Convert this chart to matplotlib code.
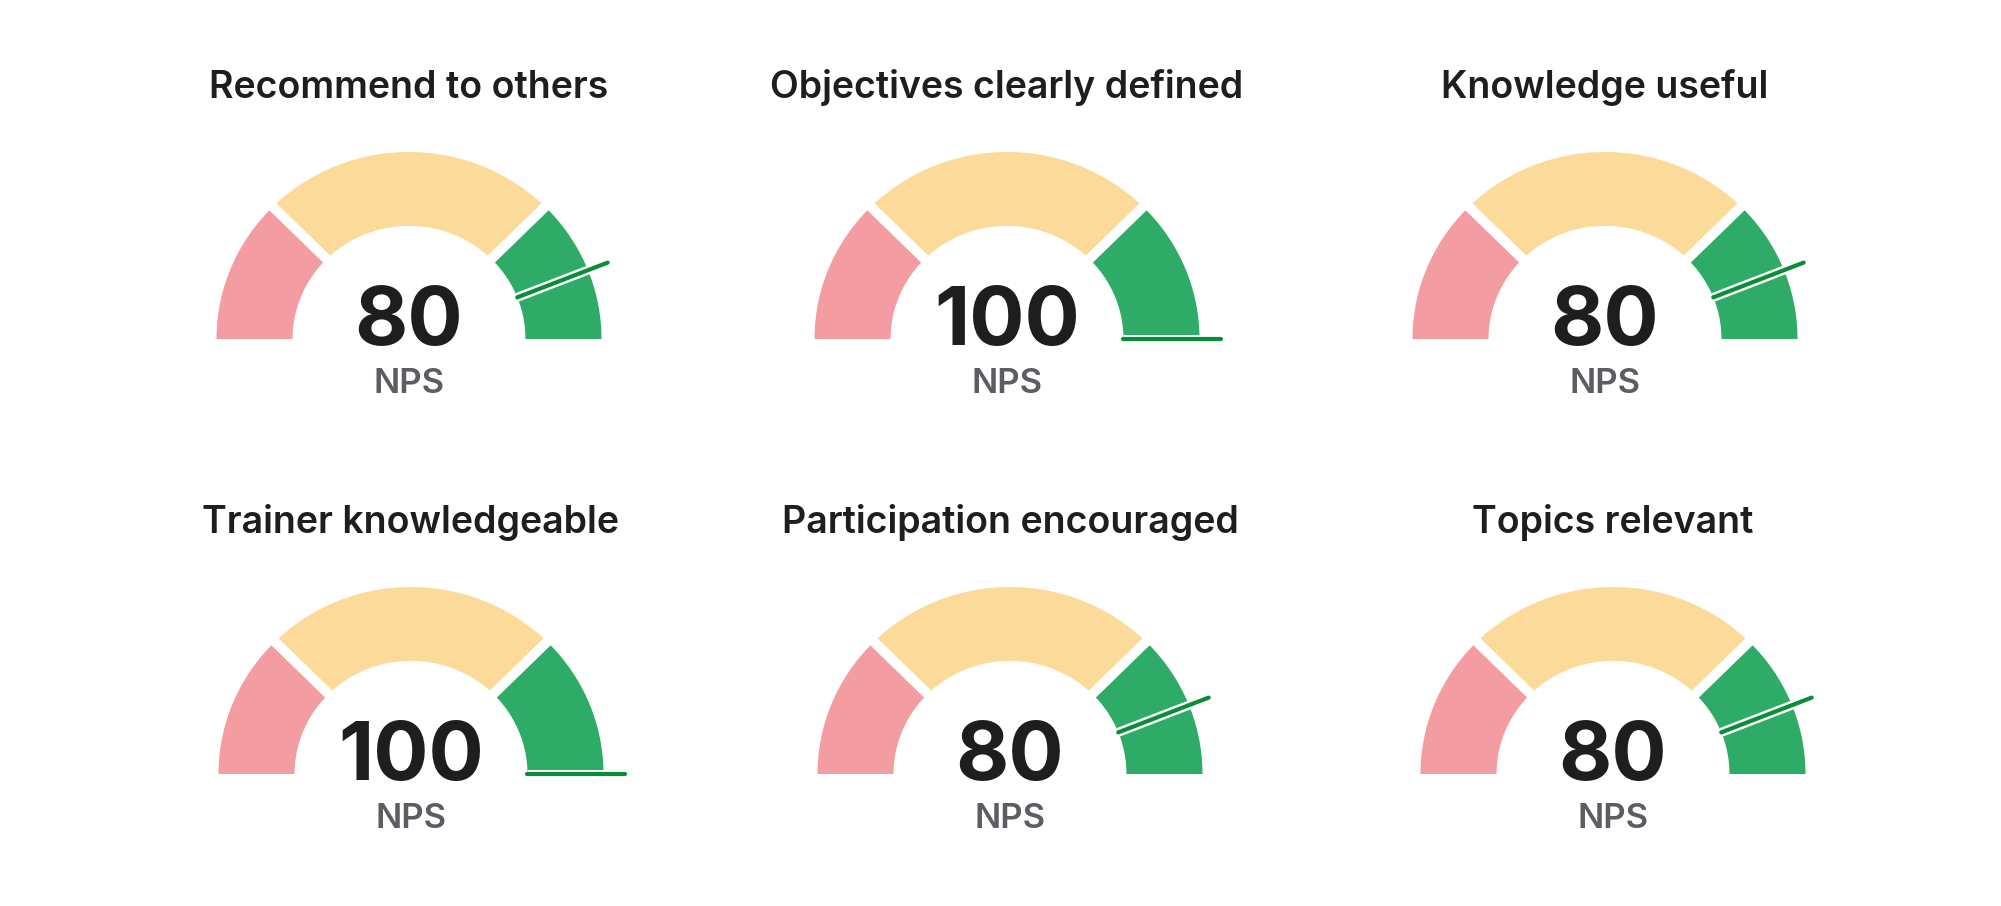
import numpy as np
import matplotlib.pyplot as plt

# Data
titles = ['Recommend to others', 'Objectives clearly defined', 'Knowledge useful',
          'Trainer knowledgeable', 'Participation encouraged', 'Topics relevant']
scores = [80, 100, 80, 100, 80, 80]          # number shown in the middle
needle_values = [76, 100, 76, 100, 76, 76]   # where the needle points
band_edges = [-100, -50, 50, 100]            # detractor / passive / promoter
band_colors = ['#f39ca2', '#fbda9a', '#2eab66']
needle_color = '#0a8c38'

# Layout (pixels)
W, H = 2001, 906
DPI = 100
centers_x = [[409, 1007, 1605], [411, 1010, 1613]]
baselines = [339, 774]
px_x, px_y = 192.5, 187.0      # pixels per unit radius
r_in = 0.605
xl, yl = (-1.35, 1.35), (-0.4, 1.15)

plt.rcParams['font.family'] = ['Inter', 'DejaVu Sans']

fig = plt.figure(figsize=(W / DPI, H / DPI), dpi=DPI, facecolor='white')


def ang(v):
    return np.deg2rad(180 - (v + 100) / 200 * 180)


for i, title in enumerate(titles):
    row, col = divmod(i, 3)
    cx, by = centers_x[row][col], baselines[row]
    aw = (xl[1] - xl[0]) * px_x
    ah = (yl[1] - yl[0]) * px_y
    left = cx + xl[0] * px_x
    bottom = (H - by) + yl[0] * px_y
    ax = fig.add_axes([left / W, bottom / H, aw / W, ah / H])
    ax.set_xlim(*xl)
    ax.set_ylim(*yl)
    ax.axis('off')

    # coloured bands
    for k in range(3):
        t = np.linspace(ang(band_edges[k]), ang(band_edges[k + 1]), 100)
        xs = np.concatenate([np.cos(t), r_in * np.cos(t[::-1])])
        ys = np.concatenate([np.sin(t), r_in * np.sin(t[::-1])])
        ax.fill(xs, ys, color=band_colors[k], lw=0)
    # white gaps between bands
    for v in band_edges[1:-1]:
        a = ang(v)
        ax.plot([0.5 * np.cos(a), 1.05 * np.cos(a)], [0.5 * np.sin(a), 1.05 * np.sin(a)],
                color='white', lw=7.2, solid_capstyle='butt')

    # needle
    a = ang(needle_values[i])
    nx = [r_in * np.cos(a), 1.11 * np.cos(a)]
    ny = [r_in * np.sin(a), 1.11 * np.sin(a)]
    ax.plot(nx, ny, color='white', lw=6.5, solid_capstyle='butt')
    ax.plot(nx, ny, color=needle_color, lw=3.0, solid_capstyle='round')

    ax.text(0, 1.29, title, ha='center', va='baseline', fontsize=27,
            fontweight='semibold', color='#1e1e1e')
    ax.text(0, -0.032, str(scores[i]), ha='center', va='baseline', fontsize=59,
            fontweight='bold', color='#1e1e1e')
    ax.text(0, -0.287, 'NPS', ha='center', va='baseline', fontsize=25,
            fontweight='semibold', color='#5c5d63')

fig.savefig('out.png', dpi=DPI, facecolor='white')
